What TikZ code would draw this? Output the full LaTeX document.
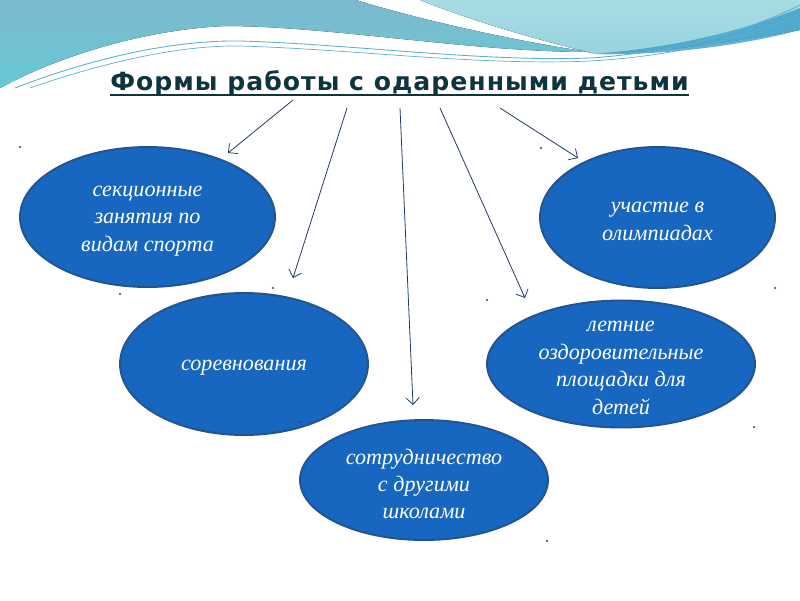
\documentclass[tikz,border=0pt]{standalone}
\usepackage{fontspec}
\setmainfont{Liberation Serif}
\newfontfamily\titlefont[LetterSpace=4]{DejaVu Sans}
\usetikzlibrary{shapes.geometric,arrows.meta}

\definecolor{wavedark}{HTML}{7DB9CD}
\definecolor{wavelow}{HTML}{66C9D6}
\definecolor{wavelight}{HTML}{A8DCE4}
\definecolor{wavestreak}{HTML}{3D9FC8}
\definecolor{waveline}{HTML}{5EB0D0}
\definecolor{titleink}{HTML}{0F3440}
\definecolor{ovalfill}{HTML}{1766BF}
\definecolor{ovaledge}{HTML}{24548F}
\definecolor{arrowink}{HTML}{1F3A66}

\tikzset{
  titlebox/.style={font=\titlefont\bfseries\fontsize{14.3}{17}\selectfont, text=titleink, inner sep=0pt},
  oval/.style={ellipse, draw=ovaledge, line width=1.1pt, fill=ovalfill, inner sep=0pt},
  ovaltext/.style={text=white, font=\itshape\fontsize{12.6}{15.6}\selectfont, align=center,
    inner sep=0pt, yshift=-2.2pt},
  pointer/.style={draw=arrowink, line width=0.45pt, -{Straight Barb[length=3.8pt,width=7.5pt]}},
  speck/.style={fill=black!75}
}

\begin{document}
\begin{tikzpicture}[x=0.02cm, y=-0.02cm]
  \useasboundingbox (0,0) rectangle (800,600);
  \fill[white] (0,0) rectangle (800,600);

  % 1. waves at the top
  \fill[top color=wavedark, bottom color=wavelow]
    (0,0) -- (356,0) .. controls (420,20) and (520,42) .. (590,52)
    .. controls (470,52) and (330,26) .. (225,26)
    .. controls (140,30) and (55,58) .. (0,88) -- cycle;
  \fill[top color=wavelight, bottom color=wavelight!85!wavestreak]
    (420,0) -- (800,0) -- (800,30) .. controls (720,44) and (650,54) .. (592,53)
    .. controls (530,38) and (470,20) .. (420,0) -- cycle;
  \fill[wavestreak, opacity=0.8]
    (590,54) .. controls (680,48) and (750,28) .. (800,8) -- (800,30)
    .. controls (740,46) and (660,56) .. (590,54) -- cycle;
  \draw[waveline, line width=0.5pt]
    (15,88) .. controls (100,55) and (180,40) .. (240,41)
    .. controls (350,44) and (480,62) .. (590,58)
    .. controls (680,52) and (750,30) .. (800,5);
  \draw[waveline, line width=0.4pt]
    (30,88) .. controls (110,60) and (185,45) .. (240,46)
    .. controls (350,49) and (480,66) .. (590,61)
    .. controls (680,56) and (750,36) .. (800,14);

  % 2. title
  \node[titlebox, anchor=base] (title) at (399.5,90) {Формы работы с одаренными детьми};
  \draw[titleink, line width=1.1pt]
    ([yshift=-2.6pt]title.base west) -- ([yshift=-2.6pt]title.base east);

  % 3. ovals
  \node[oval, minimum width=5.1cm, minimum height=2.8cm,
        label={[ovaltext]center:{секционные\\занятия по\\видам спорта}}] (sek) at (147.5,217) {};
  \node[oval, minimum width=4.7cm, minimum height=2.82cm,
        label={[ovaltext]center:{участие в\\олимпиадах}}] (olymp) at (657.5,217.5) {};
  \node[oval, minimum width=4.96cm, minimum height=2.84cm,
        label={[ovaltext]center:{соревнования}}] (sorev) at (244,364) {};
  \node[oval, minimum width=5.36cm, minimum height=2.54cm,
        label={[ovaltext]center:{летние\\оздоровительные\\площадки для\\детей}}] (leto) at (621,364) {};
  \node[oval, minimum width=4.96cm, minimum height=2.4cm,
        label={[ovaltext]center:{сотрудничество\\с другими\\школами}}] (sotr) at (424,480) {};

  % 4. arrows from the title
  \coordinate (s1) at (293,100);
  \coordinate (s2) at (347,108);
  \coordinate (s3) at (400,108);
  \coordinate (s4) at (440,108);
  \coordinate (s5) at (500,108);
  \coordinate (t1) at (228,153);
  \coordinate (t2) at (293,278);
  \coordinate (t3) at (413,405);
  \coordinate (t4) at (525,298);
  \coordinate (t5) at (578,158);
  \foreach \i in {1,...,5}
    \draw[pointer] (s\i) -- (t\i);

  % 5. stray dots
  \foreach \p in {(20,147),(541,148),(120,294),(273,288),(487,300),(775,288),(754,427),(547,541),(300,422)}
    \fill[speck] \p circle (1.1);
\end{tikzpicture}
\end{document}
